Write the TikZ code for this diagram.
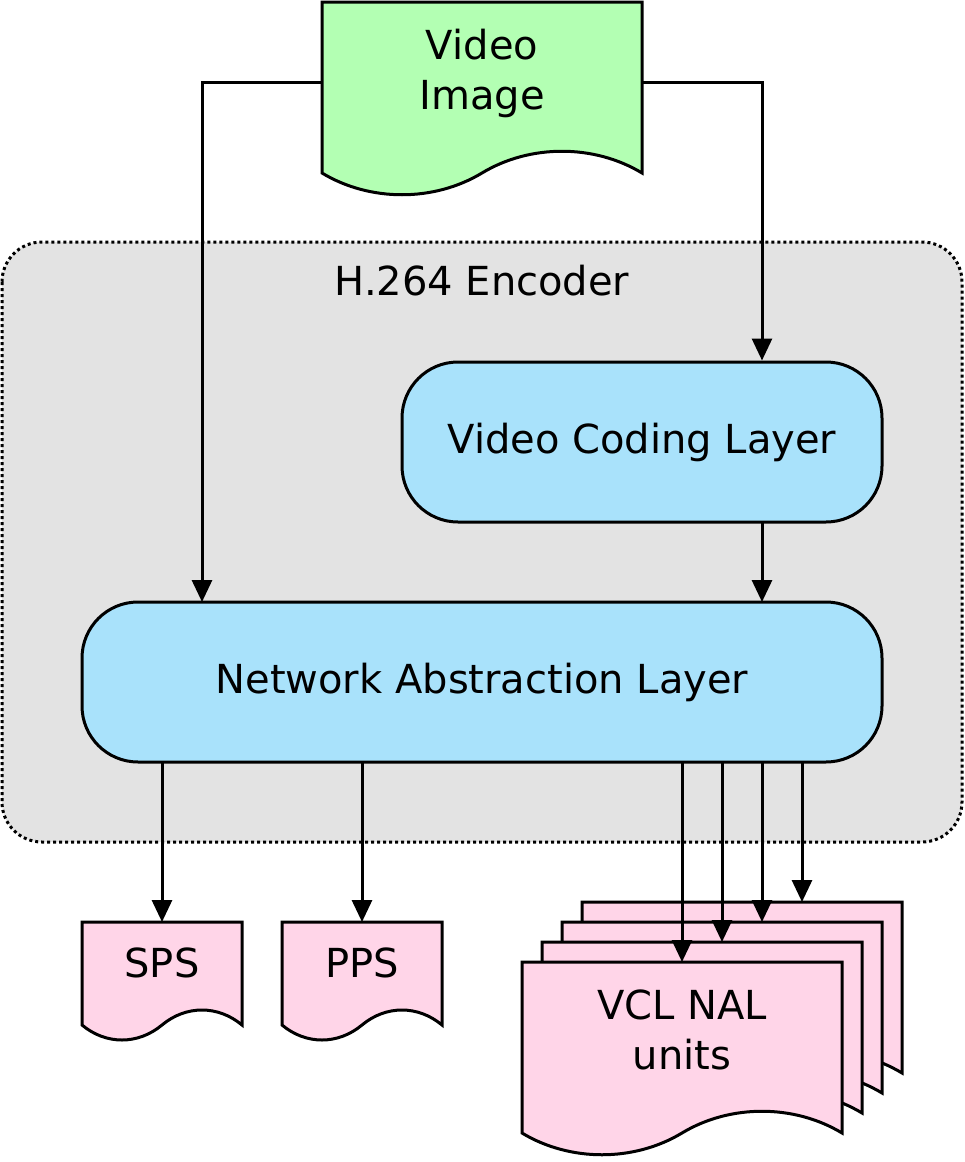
\documentclass[tikz,border=0pt]{standalone}
\usepackage{fontspec}
\setmainfont{DejaVu Sans}
\usetikzlibrary{arrows.meta}
\definecolor{vid}{HTML}{B3FFB3}
\definecolor{enc}{HTML}{E3E3E3}
\definecolor{lay}{HTML}{A9E2FB}
\definecolor{pk}{HTML}{FFD5E8}
\newcommand\mydoc[6]{% x y w b off fill
  \draw[line width=3pt,fill=#6] (#1,#4) -- (#1,#2) -- ({#1+#3},#2) -- ({#1+#3},#4)
   .. controls ({#1+0.85*#3},{#4-#5}) and ({#1+0.65*#3},{#4-#5}) .. ({#1+0.5*#3},#4)
   .. controls ({#1+0.35*#3},{#4+#5}) and ({#1+0.15*#3},{#4+#5}) .. (#1,#4) -- cycle;}
\begin{document}
\begin{tikzpicture}[x=1pt,y=-1pt,
  txt/.style={font=\fontsize{40}{50}\selectfont,align=center},
  box/.style={draw,line width=3pt,rounded corners=56pt,fill=lay},
  arr/.style={line width=3pt,-{Triangle[length=22pt,width=20pt]}}]
\useasboundingbox (0,0) rectangle (964,1162);
\draw[line width=3pt,dash pattern=on 3pt off 3pt,fill=enc,rounded corners=40pt] (2,242) rectangle (962,842);
\node[txt] (enc) at (482,281) {H.264 Encoder};
\node[box,minimum width=480pt,minimum height=160pt,txt] (vcl) at (642,442) {Video Coding Layer};
\node[box,minimum width=800pt,minimum height=160pt,txt] (nal) at (482,682) {Network Abstraction Layer};
\mydoc{322}{2}{320}{173}{29}{vid}
\node[txt] (vi) at (482,73) {Video\\Image};
\mydoc{82}{922}{160}{1025}{20}{pk}
\node[txt] (sps) at (162,963) {SPS};
\mydoc{282}{922}{160}{1025}{20}{pk}
\node[txt] (pps) at (362,963) {PPS};
\mydoc{582}{902}{320}{1073}{29}{pk}
\mydoc{562}{922}{320}{1093}{29}{pk}
\mydoc{542}{942}{320}{1113}{29}{pk}
\mydoc{522}{962}{320}{1133}{29}{pk}
\node[txt] (vn) at (682,1030) {VCL NAL\\units};
\coordinate (vl) at (322,82); \coordinate (vr) at (642,82);
\coordinate (l1) at (202,82); \coordinate (r1) at (762,82);
\draw[arr] (vl) -- (l1) -- (202,602);
\draw[arr] (vr) -- (r1) -- (vcl.north -| r1);
\draw[arr] (762,522) -- (762,602);
\draw[arr] (162,762) -- (162,922);
\draw[arr] (362,762) -- (362,922);
\draw[arr] (682,762) -- (682,962);
\draw[arr] (722,762) -- (722,942);
\draw[arr] (762,762) -- (762,922);
\draw[arr] (802,762) -- (802,902);
\end{tikzpicture}
\end{document}
